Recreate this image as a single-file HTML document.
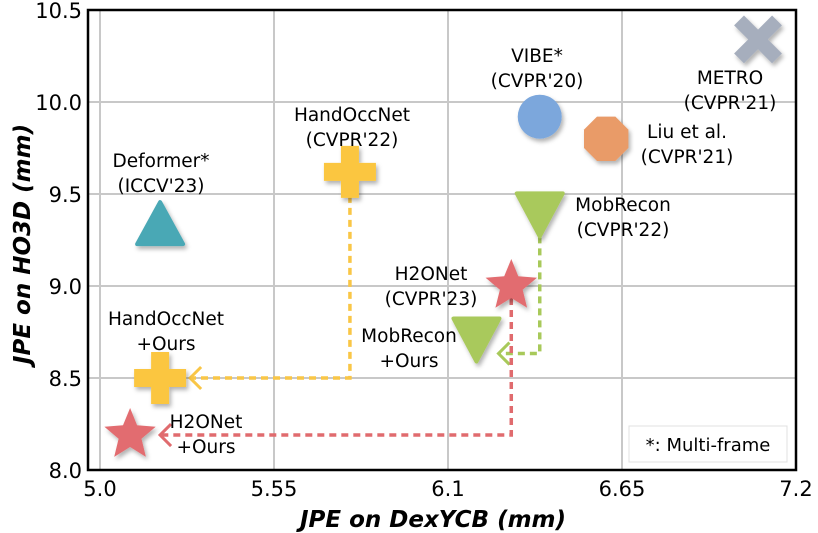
<!DOCTYPE html>
<html><head><meta charset="utf-8"><style>
html,body{margin:0;padding:0;background:#fff;}
svg{display:block;font-family:"DejaVu Sans","Liberation Sans",sans-serif;}
</style></head><body>
<svg id="chart" width="818" height="533"></svg>
<script>
const methods=["Deformer*","HandOccNet","HandOccNet+Ours","H2ONet","H2ONet+Ours","MobRecon","MobRecon+Ours","VIBE*","Liu et al.","METRO"];
const dexycb=[5.19,5.79,5.19,6.30,5.095,6.39,6.19,6.39,6.60,7.08];
const ho3d=[9.32,9.62,8.50,9.00,8.19,9.40,8.72,9.92,9.80,10.34];
const xTicks=[5.0,5.55,6.1,6.65,7.2];
const xTickLabels=["5.0","5.55","6.1","6.65","7.2"];
const yTicks=[8.0,8.5,9.0,9.5,10.0,10.5];
const yTickLabels=["8.0","8.5","9.0","9.5","10.0","10.5"];

const NS="http://www.w3.org/2000/svg";
const svg=document.getElementById('chart');
const L=88,R=796,T=10,B=470;
const xs=v=>100+(v-5.0)*(696/2.2);
const ys=v=>B-(v-8.0)*(B-T)/2.5;
function mk(tag,at,parent){const e=document.createElementNS(NS,tag);for(const k in at)e.setAttribute(k,at[k]);(parent||svg).appendChild(e);return e;}

const defs=mk('defs',{});
const f=mk('filter',{id:'sh',x:'-50%',y:'-50%',width:'200%',height:'200%'},defs);
mk('feDropShadow',{dx:'2',dy:'3',stdDeviation:'2','flood-color':'#000','flood-opacity':'0.3'},f);

xTicks.forEach((t,i)=>{
  const g=mk('line',{x1:xs(t),x2:xs(t),y1:T,y2:B,stroke:'#c8c8c8','stroke-width':2});
  
  
  const tx=mk('text',{x:xs(t),y:B+26,'text-anchor':'middle','font-size':'21'});
  tx.textContent=xTickLabels[i];
  
  
});
yTicks.forEach((t,i)=>{
  const g=mk('line',{x1:L,x2:R,y1:ys(t),y2:ys(t),stroke:'#c8c8c8','stroke-width':2});
  
  
  const tx=mk('text',{x:L-6,y:ys(t)+8,'text-anchor':'end','font-size':'21'});
  tx.textContent=yTickLabels[i];
  
  
});

const links=[[1,2,'#f9c646'],[5,6,'#a8c95a'],[3,4,'#e06b6e']];
links.forEach(([a,b,c])=>{
  const x0=xs(dexycb[a]),y0=ys(ho3d[a]);
  const yb=(b===6)?ys(ho3d[b])+16:ys(ho3d[b]);
  const xe=xs(dexycb[b])+(b===6?22:30);
  const p=mk('path',{d:`M${x0},${y0} V${yb} H${xe}`,fill:'none',stroke:c,'stroke-width':3.5,'stroke-dasharray':'7,5'});
  
  
  const h=mk('path',{d:`M${xe+11},${yb-11} L${xe},${yb} L${xe+11},${yb+11}`,fill:'none',stroke:c,'stroke-width':3});
  
  
});

function star(cx,cy,r1,r2){let p=[];for(let i=0;i<10;i++){const r=i%2?r2:r1,a=-Math.PI/2+i*Math.PI/5;p.push((cx+r*Math.cos(a)).toFixed(1)+','+(cy+r*Math.sin(a)).toFixed(1));}return p.join(' ');}
function poly(cx,cy,r,n,off){let p=[];for(let i=0;i<n;i++){const a=off+i*2*Math.PI/n;p.push((cx+r*Math.cos(a)).toFixed(1)+','+(cy+r*Math.sin(a)).toFixed(1));}return p.join(' ');}
const shapes=['tri','plus','plus','star','star','vtri','vtri','circle','oct','x'];
const colors=['#4aa8b5','#fbc63f','#fbc63f','#e26c6f','#e26c6f','#a9c95b','#a9c95b','#7ba7dc','#e99b68','#a6aebd'];
methods.forEach((m,i)=>{
  const cx=xs(dexycb[i]),cy=ys(ho3d[i]),c=colors[i];let e;
  switch(shapes[i]){
    case 'tri':e=mk('polygon',{points:`${cx},${cy-25} ${cx+23},${cy+17} ${cx-23},${cy+17}`,fill:c,stroke:c,'stroke-width':4,'stroke-linejoin':'round'});break;
    case 'vtri':e=mk('polygon',{points:`${cx-23},${cy-19} ${cx+23},${cy-19} ${cx},${cy+24}`,fill:c,stroke:c,'stroke-width':4,'stroke-linejoin':'round'});break;
    case 'plus':e=mk('path',{d:`M${cx-9},${cy-26}h18v17h17v18h-17v17h-18v-17h-17v-18h17z`,fill:c});break;
    case 'star':e=mk('polygon',{points:star(cx,cy,27,12),fill:c});break;
    case 'circle':e=mk('circle',{cx:cx,cy:cy,r:22,fill:c});break;
    case 'oct':e=mk('polygon',{points:poly(cx,cy,24,8,Math.PI/8),fill:c});break;
    case 'x':e=mk('path',{d:`M${cx-19},${cy-19}L${cx+19},${cy+19}M${cx+19},${cy-19}L${cx-19},${cy+19}`,stroke:c,'stroke-width':14});break;
  }
  e.setAttribute('filter','url(#sh)');
  
  
});

const labelData=[
 ["Deformer*",161,167],["(ICCV'23)",161,192],
 ["HandOccNet",352,121],["(CVPR'22)",352,146],
 ["HandOccNet",166,325],["+Ours",166,350],
 ["H2ONet",431,280],["(CVPR'23)",431,305],
 ["H2ONet",206,428],["+Ours",206,453],
 ["MobRecon",409,342],["+Ours",409,367],
 ["MobRecon",623,211],["(CVPR'22)",623,236],
 ["VIBE*",537,62],["(CVPR'20)",537,87],
 ["Liu et al.",687,138],["(CVPR'21)",687,163],
 ["METRO",730,84],["(CVPR'21)",730,109]
];
labelData.forEach(([t,x,y])=>{
  const e=mk('text',{x:x,y:y,'text-anchor':'middle','font-size':'18.5'});
  e.textContent=t;
  
  
});
const lb=mk('rect',{x:629,y:426,width:158,height:36,fill:'#fff',stroke:'#e0e0e0','stroke-width':1});


const lt=mk('text',{x:708,y:451,'text-anchor':'middle','font-size':'18'});
lt.textContent='*: Multi-frame';


const fr=mk('rect',{x:L,y:T,width:R-L,height:B-T,fill:'none',stroke:'#000','stroke-width':2.5});


const xt=mk('text',{x:433,y:527,'text-anchor':'middle','font-size':'23','font-weight':'bold','font-style':'italic'});
xt.setAttribute('xml:space','preserve');
xt.textContent='JPE  on  DexYCB (mm)';


const yt=mk('text',{x:0,y:0,'text-anchor':'middle','font-size':'23','font-weight':'bold','font-style':'italic',transform:'translate(30,244) rotate(-90)'});
yt.setAttribute('xml:space','preserve');
yt.textContent='JPE  on  HO3D (mm)';


</script>
</body></html>
